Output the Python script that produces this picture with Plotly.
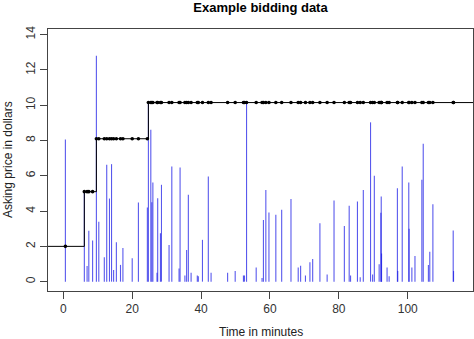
import plotly.graph_objects as go

# Bid times (minutes) and bid amounts (dollars) -- blue vertical lines
bid_times = [0.6, 6.1, 6.9, 7.4, 8.5, 9.6, 10.3, 11.9, 12.6, 13.4, 14.0, 14.6, 15.4, 16.6, 17.3,
             20.0, 21.8, 24.4, 24.7, 25.4, 25.7, 26.0, 27.2, 27.4, 28.2, 28.5, 30.7, 31.5, 33.6,
             33.9, 35.3, 35.8, 36.3, 37.1, 38.9, 39.2, 40.4, 42.1, 42.9, 47.7, 49.9, 52.3, 52.6,
             53.2, 56.0, 57.7, 58.1, 58.8, 59.7, 61.7, 63.4, 66.1, 68.2, 68.9, 70.3, 71.6, 72.4,
             74.5, 76.6, 78.6, 81.6, 83.0, 83.4, 85.4, 86.2, 87.1, 89.2, 89.8, 90.3, 91.7, 92.2,
             92.3, 92.4, 94.0, 94.6, 97.0, 97.1, 98.4, 100.3, 100.4, 101.2, 102.1, 104.1, 104.5,
             106.0, 106.4, 107.3, 113.2, 113.3]
bid_amounts = [8.05, 5.1, 0.89, 2.88, 2.33, 12.8, 3.4, 1.38, 6.62, 4.71, 6.66, 0.66, 2.24, 0.95, 1.91,
               1.33, 4.49, 4.2, 10.15, 8.61, 4.5, 5.62, 0.5, 4.73, 2.74, 5.49, 2.08, 6.53, 0.75,
               6.47, 0.35, 1.8, 4.92, 0.5, 0.35, 0.3, 2.37, 5.96, 0.5, 0.5, 0.6, 0.35, 0.35,
               10.15, 0.8, 0.2, 3.5, 5.19, 3.92, 3.79, 4.07, 4.68, 0.8, 0.9, 0.35, 1.1, 1.29,
               3.31, 0.4, 4.6, 3.16, 4.3, 0.35, 4.54, 0.25, 5.2, 9.03, 0.4, 6.0, 0.98, 3.9,
               4.83, 1.6, 0.8, 0.3, 5.3, 0.6, 6.53, 5.62, 3.0, 0.8, 1.46, 5.77, 7.81,
               0.95, 1.7, 4.39, 2.9, 0.6]
# Current asking price after each bid -- black points / step line
asking_price = [2.0,
                5.1, 5.1, 5.1, 5.1,
                8.1, 8.1, 8.1, 8.1, 8.1, 8.1, 8.1, 8.1, 8.1, 8.1, 8.1, 8.1, 8.1,
                10.15, 10.15, 10.15, 10.15, 10.15, 10.15, 10.15, 10.15, 10.15, 10.15,
                10.15, 10.15, 10.15, 10.15, 10.15, 10.15, 10.15, 10.15, 10.15, 10.15,
                10.15, 10.15, 10.15, 10.15, 10.15, 10.15, 10.15, 10.15, 10.15, 10.15,
                10.15, 10.15, 10.15, 10.15, 10.15, 10.15, 10.15, 10.15, 10.15, 10.15,
                10.15, 10.15, 10.15, 10.15, 10.15, 10.15, 10.15, 10.15, 10.15, 10.15,
                10.15, 10.15, 10.15, 10.15, 10.15, 10.15, 10.15, 10.15, 10.15, 10.15,
                10.15, 10.15, 10.15, 10.15, 10.15, 10.15, 10.15, 10.15, 10.15, 10.15,
                10.15]

x_ticks = [0, 20, 40, 60, 80, 100]
y_ticks = [0, 2, 4, 6, 8, 10, 12, 14]
x_range = [-4.45, 118.95]
y_range = [-0.53, 14.32]

FONT = "Liberation Sans, Arial, sans-serif"

# blue vertical segments
seg_x, seg_y = [], []
for t, v in zip(bid_times, bid_amounts):
    seg_x += [t, t, None]
    seg_y += [0, v, None]

fig = go.Figure()
fig.add_trace(go.Scatter(x=seg_x, y=seg_y, mode="lines",
                         line=dict(color="rgba(25,25,230,0.72)", width=1.1),
                         hoverinfo="skip", showlegend=False))
# black step line extended to the plot edges
step_x = [x_range[0]] + bid_times + [x_range[1]]
step_y = [asking_price[0]] + asking_price + [asking_price[-1]]
fig.add_trace(go.Scatter(x=step_x, y=step_y, mode="lines", line_shape="hv",
                         line=dict(color="black", width=1), showlegend=False))
fig.add_trace(go.Scatter(x=bid_times, y=asking_price, mode="markers",
                         marker=dict(color="black", size=3.6), showlegend=False))

axis_common = dict(showgrid=False, zeroline=False, showline=True, linecolor="#444",
                   linewidth=1, mirror=True, ticks="outside", ticklen=7, tickwidth=1,
                   tickcolor="#444", tickfont=dict(family=FONT, size=12, color="#333"))
fig.update_xaxes(range=x_range, tickvals=x_ticks, **axis_common)
fig.update_yaxes(range=y_range, tickvals=y_ticks, tickangle=-90, **axis_common)

fig.update_layout(
    width=474, height=339,
    margin=dict(l=48, r=1, t=29, b=48),
    paper_bgcolor="white", plot_bgcolor="white",
    title=dict(text="<b>Example bidding data</b>", x=0.5, xref="paper", y=0.978,
               yref="container", yanchor="middle",
               font=dict(family=FONT, size=13, color="black")),
    annotations=[
        dict(text="Time in minutes", xref="paper", yref="paper", x=0.5, y=-0.157,
             xanchor="center", yanchor="middle", showarrow=False,
             font=dict(family=FONT, size=12, color="#222")),
        dict(text="Asking price in dollars", xref="paper", yref="paper", x=-0.094, y=0.5,
             xanchor="center", yanchor="middle", textangle=-90, showarrow=False,
             font=dict(family=FONT, size=12, color="#222")),
    ],
)
fig.write_html("out.html")
